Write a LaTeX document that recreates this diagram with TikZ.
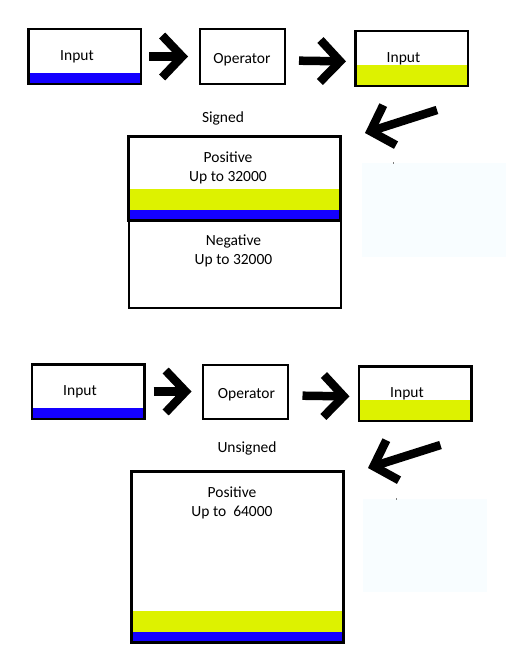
\documentclass[tikz,border=0pt]{standalone}
\usepackage{fontspec}
\setmainfont{Carlito}
\usetikzlibrary{positioning,arrows.meta}
\definecolor{bandblue}{RGB}{20,0,255}
\definecolor{bandyellow}{RGB}{221,242,0}
\definecolor{paleblue}{RGB}{248,253,255}
\tikzstyle{every node}=[font=\fontsize{15.5}{19}\selectfont]
\tikzstyle{box}=[draw,line width=2.5pt,minimum width=112.5pt,minimum height=54.5pt]
\tikzstyle{opbox}=[draw,line width=2pt,minimum width=85pt,minimum height=54pt]
\tikzstyle{bigbox}=[draw,line width=3pt,minimum width=212pt]
\tikzstyle{bigarrow}=[line width=8.5pt,-{Straight Barb[length=20pt,width=42pt]}]
\tikzset{
  lowband/.style 2 args={path picture={\fill[#1] (path picture bounding box.south west) rectangle ([yshift=#2]path picture bounding box.south east);}},
  twoband/.style={path picture={
    \fill[bandblue] (path picture bounding box.south west) rectangle ([yshift=11pt]path picture bounding box.south east);
    \fill[bandyellow] ([yshift=11pt]path picture bounding box.south west) rectangle ([yshift=32pt]path picture bounding box.south east);}}
}

\begin{document}
\begin{tikzpicture}[x=1pt,y=-1pt]
\useasboundingbox (0,0) rectangle (506,669);

% signed
\node[box,lowband={bandblue}{11pt},label={[xshift=-7.5pt,yshift=-0.5pt]center:Input}] (in_1) at (84.5,56.5) {};
\node[opbox,label={[xshift=-0.5pt,yshift=-3.5pt]center:Operator}] (op_1) [right=57pt of in_1] {};
\node[box,lowband={bandyellow}{21pt},label={[xshift=-8pt,yshift=-0.5pt]center:Input}] (out_1) [right=68pt of op_1,yshift=-2pt] {};
\path[bigarrow] (in_1) edge[shorten <=7pt,shorten >=11pt] (op_1)
    ([yshift=-4pt]op_1.east) edge[shorten <=13pt,shorten >=8pt] ([yshift=-3pt]out_1.west);

\node (signed) at (223,118) {Signed};
\node[bigbox,minimum height=84pt,twoband,label={[align=center,xshift=-6.5pt,yshift=11pt]center:Positive\\Up to 32000}] (pos_1) at (234.5,178.5) {};
\node[bigbox,line width=2pt,minimum height=87.5pt,label={[align=center,xshift=-1pt,yshift=13.5pt]center:Negative\\Up to 32000}] (neg_1) [below=-2.5pt of pos_1] {};
\draw[bigarrow] ([xshift=-32pt,yshift=-23pt]out_1.south east) -- ([xshift=23pt,yshift=2pt]pos_1.north east);

\fill[paleblue] (362,163) rectangle (506,257);
\fill[gray] (392.5,162) rectangle (394,163.5);

% unsigned
\node[box,lowband={bandblue}{11pt},label={[xshift=-8pt,yshift=-0.5pt]center:Input}] (in_2) at (88,391.5) {};
\node[opbox,label={[xshift=1.5pt,yshift=-3.5pt]center:Operator}] (op_2) [right=56pt of in_2] {};
\node[box,lowband={bandyellow}{21pt},label={[xshift=-8pt,yshift=-0.5pt]center:Input}] (out_2) [right=69pt of op_2,yshift=-2pt] {};
\path[bigarrow] (in_2) edge[shorten <=8pt,shorten >=10pt] (op_2)
    ([yshift=-4pt]op_2.east) edge[shorten <=14pt,shorten >=8pt] ([yshift=-3pt]out_2.west);

\node (unsigned) at (247,448) {Unsigned};
\node[bigbox,minimum height=171pt,twoband,label={[align=center,xshift=-5.5pt,yshift=54.5pt]center:Positive\\Up to~~64000}] (pos_2) at (237.5,557) {};
\draw[bigarrow] ([xshift=-32pt,yshift=-23pt]out_2.south east) -- ([xshift=23pt,yshift=2pt]pos_2.north east);

\fill[paleblue] (363,499) rectangle (487,592);
\fill[gray] (395.5,498) rectangle (397,499.5);
\end{tikzpicture}
\end{document}
